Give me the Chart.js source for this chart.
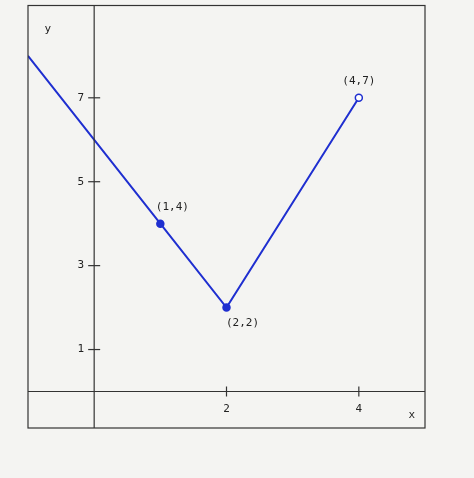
<!DOCTYPE html>
<html><head><script src="https://cdn.jsdelivr.net/npm/chart.js@4"></script>
<style>body{margin:0;background:#f4f4f2}#w{width:474px;height:478px}</style></head>
<body><div id="w"><canvas id="c"></canvas></div>
<script>
const xs=[-1,1,2,4];
const ys=[8,4,2,7];
const pointLabels=["","(1,4)","(2,2)","(4,7)"];
const xTicks=[2,4];
const yTicks=[1,3,5,7];
const deco={id:'deco',afterDraw(ch){
 const c=ch.ctx,x=ch.scales.x,y=ch.scales.y,a=ch.chartArea;
 c.save();c.strokeStyle='#333';c.lineWidth=1.2;
 c.strokeRect(a.left,a.top,a.right-a.left,a.bottom-a.top);
 const x0=x.getPixelForValue(0),y0=y.getPixelForValue(0);
 c.beginPath();c.moveTo(x0,a.top);c.lineTo(x0,a.bottom);c.moveTo(a.left,y0);c.lineTo(a.right,y0);c.stroke();
 c.font='11px "DejaVu Sans Mono"';c.fillStyle='#222';
 c.textAlign='right';c.textBaseline='middle';
 yTicks.forEach(v=>{const p=y.getPixelForValue(v);c.beginPath();c.moveTo(x0-6,p);c.lineTo(x0+6,p);c.stroke();c.fillText(v,x0-10,p);});
 c.textAlign='center';c.textBaseline='top';
 xTicks.forEach(v=>{const p=x.getPixelForValue(v);c.beginPath();c.moveTo(p,y0-5);c.lineTo(p,y0+5);c.stroke();c.fillText(v,p,y0+12);});
 c.fillText('x',x.getPixelForValue(4.8),y0+18);
 c.fillText('y',x.getPixelForValue(-0.7),a.top+18);
 const off=[[0,0],[12,-16],[16,16],[0,-16]];
 xs.forEach((v,i)=>{if(!pointLabels[i])return;c.fillText(pointLabels[i],x.getPixelForValue(v)+off[i][0],y.getPixelForValue(ys[i])+off[i][1]-6);});
 c.restore();}};
new Chart(document.getElementById('c'),{type:'scatter',
data:{datasets:[{data:xs.map((v,i)=>({x:v,y:ys[i]})),showLine:true,borderColor:'#1f2fd0',borderWidth:2,
 pointRadius:[0,3.5,3.5,3.5],pointBackgroundColor:['#1f2fd0','#1f2fd0','#1f2fd0','#fff'],pointBorderColor:'#1f2fd0',pointBorderWidth:1.5}]},
options:{responsive:true,maintainAspectRatio:false,animation:false,
 layout:{padding:{left:28,right:49,top:5,bottom:50}},
 plugins:{legend:{display:false},tooltip:{enabled:false}},
 scales:{x:{type:'linear',min:-1,max:5,display:false},y:{type:'linear',min:-0.87,max:9.2,display:false}}},
plugins:[deco]});
</script></body></html>
